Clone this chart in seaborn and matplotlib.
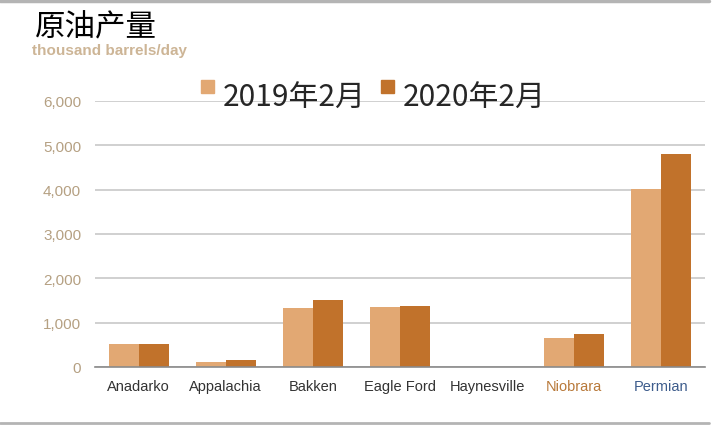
import matplotlib
matplotlib.use("Agg")
import matplotlib.pyplot as plt
import seaborn as sns
import pandas as pd
from matplotlib.lines import Line2D
from matplotlib.patches import Rectangle
from matplotlib.legend_handler import HandlerPatch
from matplotlib.ticker import FuncFormatter

regions = ["Anadarko", "Appalachia", "Bakken", "Eagle Ford", "Haynesville", "Niobrara", "Permian"]
feb_2019 = [530, 120, 1330, 1345, 10, 660, 4010]
feb_2020 = [530, 165, 1510, 1365, 10, 750, 4800]
series = ["2019年2月", "2020年2月"]
colors = ["#E2A873", "#C1722B"]
yticks = [0, 1000, 2000, 3000, 4000, 5000, 6000]

df = pd.DataFrame({
    "region": regions * 2,
    "value": feb_2019 + feb_2020,
    "period": [series[0]] * len(regions) + [series[1]] * len(regions),
})

sns.set_style("white")
plt.rcParams["font.family"] = ["Liberation Sans", "DejaVu Sans"]

fig = plt.figure(figsize=(7.25, 4.27), dpi=100)
ax = fig.add_axes([95/725, 1 - 368/427, 610/725, (368 - 102)/427])

sns.barplot(data=df, x="region", y="value", hue="period", palette=colors,
            width=0.69, saturation=1, ax=ax, legend=True, edgecolor="none")

ax.set_ylim(0, 6000)
ax.set_xlim(-0.5, len(regions) - 0.5)
ax.set_yticks(yticks)
ax.yaxis.set_major_formatter(FuncFormatter(lambda v, p: f"{int(v):,}"))
ax.grid(axis="y", color="#C8C8C8", linewidth=1.2)
ax.set_axisbelow(True)
for s in ["top", "right", "left"]:
    ax.spines[s].set_visible(False)
ax.spines["bottom"].set_color("#8A8A8A")
ax.spines["bottom"].set_linewidth(1.2)
ax.set_xlabel("")
ax.set_ylabel("")
ax.tick_params(axis="y", length=0, pad=10, labelsize=11, labelcolor="#B5A082")
ax.tick_params(axis="x", length=0, pad=9, labelsize=10.5, labelcolor="#333333")
ax.set_xticks([i + 0.5 for i in range(-1, len(regions))], minor=True)
ax.tick_params(axis="x", which="minor", length=4, color="#8A8A8A", direction="out")
lab_colors = ["#333333"] * 5 + ["#B8793A", "#3D5C8C"]
for lbl, c in zip(ax.get_xticklabels(), lab_colors):
    lbl.set_color(c)


def raised_square(legend, orig_handle, xdescent, ydescent, width, height, fontsize):
    side = 9
    return Rectangle((-xdescent + width - side, -ydescent + height * 0.62), side, side)


handles = [Rectangle((0, 0), 1, 1, color=c) for c in colors]
leg = ax.legend(handles, series, ncol=2, frameon=False, loc="upper left",
                bbox_to_anchor=(0.136, 1.174), handlelength=0.3, handleheight=0.5,
                handletextpad=0.3, columnspacing=0.65,
                handler_map={Rectangle: HandlerPatch(patch_func=raised_square)},
                prop={"family": ["Noto Sans CJK SC", "DejaVu Sans"], "size": 21.5})

fig.text(35/725, 1 - 28/427, "原油产量", fontsize=22,
         family=["Noto Sans CJK SC", "DejaVu Sans"], va="center", ha="left", color="#000000")
fig.text(32/725, 1 - 51/427, "thousand barrels/day", fontsize=11,
         va="center", ha="left", color="#CDB596", fontweight="bold")

fig.add_artist(Line2D([0, 709/725], [1 - 2/427, 1 - 2/427], color="#B4B4B4", linewidth=2.5,
                      transform=fig.transFigure))
fig.add_artist(Line2D([0, 709/725], [1 - 424/427, 1 - 424/427], color="#B4B4B4", linewidth=2,
                      transform=fig.transFigure))

fig.savefig("out.png", dpi=100)
